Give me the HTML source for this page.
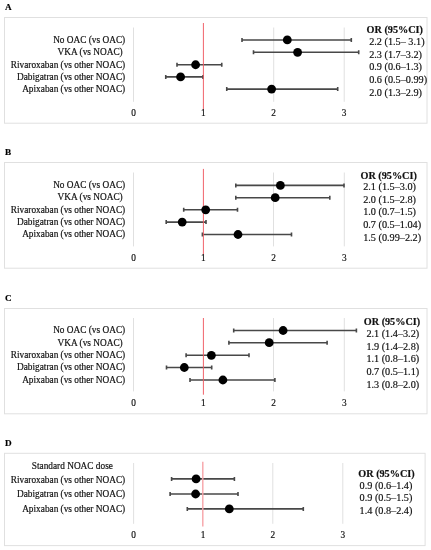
<!DOCTYPE html><html><head><meta charset="utf-8"><title>Forest plot</title>
<style>html,body{margin:0;padding:0;background:#fff}svg{display:block}text{font-family:"Liberation Serif", serif;fill:#111;stroke:#111;stroke-width:.18px}.l{font-size:9.3px;text-anchor:end}.r{font-size:10.22px}.h{font-size:10.2px;font-weight:bold}.p{font-size:9.2px;font-weight:bold;fill:#000}.x{font-size:9.3px;text-anchor:middle}.g{stroke:#e0e0e0;stroke-width:1}.b{fill:none;stroke:#e0e0e0;stroke-width:1}.c{stroke:#484848;stroke-width:1.6}.d{fill:#000}</style></head><body>
<svg width="431" height="550" viewBox="0 0 431 550">
<rect width="431" height="550" fill="#fff"/>
<g>
<text class="p" x="5" y="10.3">A</text>
<rect class="b" x="4.5" y="17.5" width="422.5" height="105.7"/>
<line class="g" x1="133.5" x2="133.5" y1="27.5" y2="101.8"/>
<line class="g" x1="273.7" x2="273.7" y1="27.5" y2="101.8"/>
<line class="g" x1="344.2" x2="344.2" y1="27.5" y2="101.8"/>
<path class="c" d="M242 39.95H351.3M242 37.95v4M351.3 37.95v4"/>
<path class="c" d="M253.5 52.3H358.7M253.5 50.3v4M358.7 50.3v4"/>
<path class="c" d="M177 64.75H221.75M177 62.75v4M221.75 62.75v4"/>
<path class="c" d="M165.75 76.9H203M165.75 74.9v4M203 74.9v4"/>
<path class="c" d="M226.75 89.1H337.7M226.75 87.1v4M337.7 87.1v4"/>
<line x1="203.4" x2="203.4" y1="23" y2="109.5" stroke="#ef5a62" stroke-width="0.95"/>
<circle class="d" cx="287.3" cy="39.95" r="4.4"/>
<circle class="d" cx="297.6" cy="52.3" r="4.4"/>
<circle class="d" cx="195.6" cy="64.75" r="4.4"/>
<circle class="d" cx="180.6" cy="76.9" r="4.4"/>
<circle class="d" cx="271.6" cy="89.1" r="4.4"/>
<text class="l" x="125.2" y="42.85">No OAC (vs OAC)</text>
<text class="l" x="122.7" y="55.35">VKA (vs NOAC)</text>
<text class="l" x="125.2" y="67.5">Rivaroxaban (vs other NOAC)</text>
<text class="l" x="125.2" y="79.75">Dabigatran (vs other NOAC)</text>
<text class="l" x="125.2" y="92.2">Apixaban (vs other NOAC)</text>
<text class="h" x="366.6" y="33.4">OR (95%CI)</text>
<text class="r" x="369.2" y="45.3">2.2 (1.5– 3.1)</text>
<text class="r" x="369.2" y="57.7">2.3 (1.7–3.2)</text>
<text class="r" x="369.2" y="70.3">0.9 (0.6–1.3)</text>
<text class="r" x="369.2" y="82.9">0.6 (0.5–0.99)</text>
<text class="r" x="369.2" y="95.5">2.0 (1.3–2.9)</text>
<text class="x" x="133.5" y="115.95">0</text>
<text class="x" x="203.4" y="115.95">1</text>
<text class="x" x="273.7" y="115.95">2</text>
<text class="x" x="344.2" y="115.95">3</text>
</g>
<g>
<text class="p" x="5" y="155.4">B</text>
<rect class="b" x="4.5" y="162.5" width="422.5" height="105.7"/>
<line class="g" x1="133.5" x2="133.5" y1="172.5" y2="246.4"/>
<line class="g" x1="273.5" x2="273.5" y1="172.5" y2="246.4"/>
<line class="g" x1="344.3" x2="344.3" y1="172.5" y2="246.4"/>
<path class="c" d="M235.8 185.4H344M235.8 183.4v4M344 183.4v4"/>
<path class="c" d="M235.8 197.7H329.8M235.8 195.7v4M329.8 195.7v4"/>
<path class="c" d="M183.7 209.8H237.5M183.7 207.8v4M237.5 207.8v4"/>
<path class="c" d="M166.2 222.1H206M166.2 220.1v4M206 220.1v4"/>
<path class="c" d="M202.4 234.5H291.5M202.4 232.5v4M291.5 232.5v4"/>
<line x1="203.4" x2="203.4" y1="168.9" y2="254.5" stroke="#ef5a62" stroke-width="0.95"/>
<circle class="d" cx="280.4" cy="185.4" r="4.4"/>
<circle class="d" cx="275.2" cy="197.7" r="4.4"/>
<circle class="d" cx="205.7" cy="209.8" r="4.4"/>
<circle class="d" cx="182.2" cy="222.1" r="4.4"/>
<circle class="d" cx="238" cy="234.5" r="4.4"/>
<text class="l" x="125.2" y="187.85">No OAC (vs OAC)</text>
<text class="l" x="122.7" y="200.35">VKA (vs NOAC)</text>
<text class="l" x="125.2" y="212.7">Rivaroxaban (vs other NOAC)</text>
<text class="l" x="125.2" y="224.75">Dabigatran (vs other NOAC)</text>
<text class="l" x="125.2" y="237.4">Apixaban (vs other NOAC)</text>
<text class="h" x="360.5" y="178.6">OR (95%CI)</text>
<text class="r" x="363.2" y="190.3">2.1 (1.5–3.0)</text>
<text class="r" x="363.2" y="202.8">2.0 (1.5–2.8)</text>
<text class="r" x="363.2" y="215.3">1.0 (0.7–1.5)</text>
<text class="r" x="363.2" y="227.9">0.7 (0.5–1.04)</text>
<text class="r" x="363.2" y="240.6">1.5 (0.99–2.2)</text>
<text class="x" x="133.5" y="260.95">0</text>
<text class="x" x="203.4" y="260.95">1</text>
<text class="x" x="273.5" y="260.95">2</text>
<text class="x" x="344.3" y="260.95">3</text>
</g>
<g>
<text class="p" x="5" y="301">C</text>
<rect class="b" x="4.5" y="308.5" width="422.5" height="105.3"/>
<line class="g" x1="133.5" x2="133.5" y1="318" y2="391.4"/>
<line class="g" x1="273.5" x2="273.5" y1="318" y2="391.4"/>
<line class="g" x1="344.3" x2="344.3" y1="318" y2="391.4"/>
<path class="c" d="M233.7 330.5H356.4M233.7 328.5v4M356.4 328.5v4"/>
<path class="c" d="M228.9 342.7H327.1M228.9 340.7v4M327.1 340.7v4"/>
<path class="c" d="M186.1 355.3H249M186.1 353.3v4M249 353.3v4"/>
<path class="c" d="M166.5 367.5H211.7M166.5 365.5v4M211.7 365.5v4"/>
<path class="c" d="M190 380H274.9M190 378v4M274.9 378v4"/>
<line x1="203.4" x2="203.4" y1="318" y2="394.7" stroke="#ef5a62" stroke-width="0.95"/>
<circle class="d" cx="283.1" cy="330.5" r="4.4"/>
<circle class="d" cx="269.2" cy="342.7" r="4.4"/>
<circle class="d" cx="211.4" cy="355.3" r="4.4"/>
<circle class="d" cx="184.3" cy="367.5" r="4.4"/>
<circle class="d" cx="222.9" cy="380" r="4.4"/>
<text class="l" x="125.2" y="333.35">No OAC (vs OAC)</text>
<text class="l" x="122.7" y="345.85">VKA (vs NOAC)</text>
<text class="l" x="125.2" y="358.2">Rivaroxaban (vs other NOAC)</text>
<text class="l" x="125.2" y="370.45">Dabigatran (vs other NOAC)</text>
<text class="l" x="125.2" y="382.7">Apixaban (vs other NOAC)</text>
<text class="h" x="363.8" y="324.9">OR (95%CI)</text>
<text class="r" x="366.4" y="336.8">2.1 (1.4–3.2)</text>
<text class="r" x="366.4" y="349.5">1.9 (1.4–2.8)</text>
<text class="r" x="366.4" y="362.1">1.1 (0.8–1.6)</text>
<text class="r" x="366.4" y="374.8">0.7 (0.5–1.1)</text>
<text class="r" x="366.4" y="387.7">1.3 (0.8–2.0)</text>
<text class="x" x="133.5" y="406.35">0</text>
<text class="x" x="203.4" y="406.35">1</text>
<text class="x" x="273.5" y="406.35">2</text>
<text class="x" x="344.3" y="406.35">3</text>
</g>
<g>
<text class="p" x="5" y="445.8">D</text>
<rect class="b" x="4.5" y="453.3" width="420.6" height="92.3"/>
<line class="g" x1="133.6" x2="133.6" y1="463" y2="523.8"/>
<line class="g" x1="272.8" x2="272.8" y1="463" y2="523.8"/>
<line class="g" x1="342.8" x2="342.8" y1="463" y2="523.8"/>
<path class="c" d="M171.6 478.9H234.4M171.6 476.9v4M234.4 476.9v4"/>
<path class="c" d="M170.1 494H238M170.1 492v4M238 492v4"/>
<path class="c" d="M187.3 508.9H303.3M187.3 506.9v4M303.3 506.9v4"/>
<line x1="202.8" x2="202.8" y1="461.7" y2="526.6" stroke="#f7a3a8" stroke-width="1.4"/>
<circle class="d" cx="196.1" cy="478.9" r="4.4"/>
<circle class="d" cx="195.6" cy="494" r="4.4"/>
<circle class="d" cx="229.3" cy="508.9" r="4.4"/>
<text class="l" x="112.9" y="469.4">Standard NOAC dose</text>
<text class="l" x="125.2" y="482.6">Rivaroxaban (vs other NOAC)</text>
<text class="l" x="125.2" y="497.1">Dabigatran (vs other NOAC)</text>
<text class="l" x="125.2" y="511.7">Apixaban (vs other NOAC)</text>
<text class="h" x="358.3" y="476.6">OR (95%CI)</text>
<text class="r" x="359.6" y="488.8">0.9 (0.6–1.4)</text>
<text class="r" x="359.6" y="501.2">0.9 (0.5–1.5)</text>
<text class="r" x="359.6" y="513.9">1.4 (0.8–2.4)</text>
<text class="x" x="133.6" y="538.05">0</text>
<text class="x" x="203" y="538.05">1</text>
<text class="x" x="272.8" y="538.05">2</text>
<text class="x" x="342.8" y="538.05">3</text>
</g>
</svg></body></html>
